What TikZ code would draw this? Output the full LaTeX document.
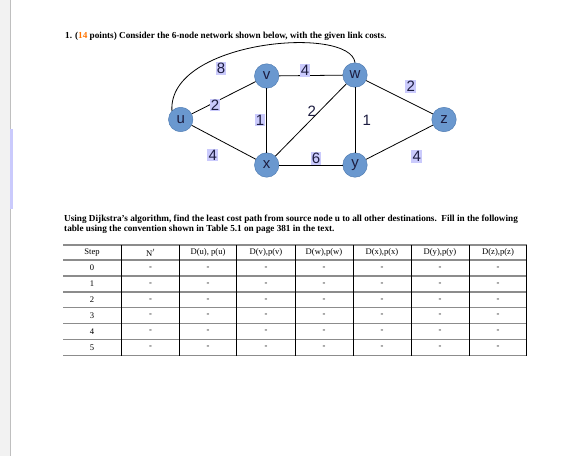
\documentclass[tikz,border=0pt]{standalone}
\usepackage{fontspec}
\setmainfont{Liberation Serif}
\newfontfamily\labelfont{Liberation Sans}
\usetikzlibrary{positioning}

\definecolor{nodeblue}{HTML}{6A98CF}
\definecolor{nodeedge}{HTML}{4A77AE}
\definecolor{costbg}{HTML}{CACAFC}
\definecolor{inkblue}{HTML}{1C1C40}
\definecolor{rulegray}{HTML}{8C8C8C}

\begin{document}
\begin{tikzpicture}[
		x=1pt, y=-1pt,
		router/.style={circle, draw=nodeedge, fill=nodeblue, minimum size=24.5pt, inner sep=0pt, font=\labelfont\fontsize{15}{15}\selectfont, text=inkblue},
		cost/.style={fill=costbg, inner sep=1.2pt, font=\labelfont\fontsize{15}{15}\selectfont, text=inkblue},
		plaincost/.style={inner sep=1.2pt, font=\labelfont\fontsize{15}{15}\selectfont, text=inkblue},
		link/.style={draw=black, line width=0.8pt},
		body/.style={anchor=base west, inner sep=0pt, font=\bfseries\fontsize{9.2}{10}\selectfont},
		cell/.style={inner sep=0pt, font=\fontsize{8.6}{9}\selectfont}
		]
		\useasboundingbox (0,0) rectangle (574,456);
		
		% 0. Page margin strip
		\fill[black!5] (0,0) rectangle (10,456);
		\draw[black!25, line width=0.8pt] (10.5,0) -- (10.5,456);
		\fill[costbg] (10,129) rectangle (13,209);
		
		% 1. Question text
		\node[body] (title) at (65,38.3) {1. ({\color{orange!90!red}14} points) Consider the 6-node network shown below, with the given link costs.};
		
		% 2. Routers
		\node[router] (u) at (180.7,119.5) {u};
		\node[router] (v) at (266.7,76) {v};
		\node[router] (w) at (355,75) {w};
		\node[router] (z) at (444,119.5) {z};
		\node[router] (x) at (266.7,165) {x};
		\node[router] (y) at (355,165) {y};
		
		% 3. Links
		\draw[link] (u.north west) .. controls (168,40) and (350,25) .. (w.north);
		\draw[link] (u) -- (v);
		\draw[link] (u) -- (x);
		\draw[link] (v) -- (w);
		\draw[link] (v) -- (x);
		\draw[link] (x) -- (w);
		\draw[link] (w) -- (y);
		\draw[link] (w) -- (z);
		\draw[link] (x) -- (y);
		\draw[link] (y) -- (z);
		
		% 4. Link costs
		\node[cost] (cuw) at (221,68.3) {8};
		\node[cost] (cuv) at (215,105) {2};
		\node[cost] (cvw) at (305,70.7) {4};
		\node[cost] (cwz) at (410.7,86.7) {2};
		\node[cost] (cvx) at (260,120) {1};
		\node[plaincost] (cxw) at (311.7,111.7) {2};
		\node[plaincost] (cwy) at (366.7,120) {1};
		\node[cost] (cux) at (212.7,155) {4};
		\node[cost] (cxy) at (316,158.3) {6};
		\node[cost] (cyz) at (416.7,156.7) {4};
		
		% 5. Instructions
		\node[body] (task1) at (64,221.7) {Using Dijkstra's algorithm, find the least cost path from source node u to all other destinations.\ \ Fill in the following};
		\node[body] (task2) at (64,231.7) {table using the convention shown in Table 5.1 on page 381 in the text.};
		
		% 6. Table rules
		\foreach \ry in {245,260,276,292,307.5,323.5,339.5,355.5}
			\draw[rulegray, line width=1.2pt] (63,\ry) -- (527,\ry);
		\foreach \cx in {121.7,179.3,236.7,295,353.3,411,469.3,526.7}
			\draw[black, line width=0.7pt] (\cx,245) -- (\cx,355.5);
		
		% 7. Table header
		\foreach \cx/\head [count=\i] in {92/Step, 150.5/N$'$, 208/{D(u), p(u)}, 266/{D(v),p(v)}, 324/{D(w),p(w)}, 382/{D(x),p(x)}, 440/{D(y),p(y)}, 498/{D(z),p(z)}}
			\node[cell] (head\i) at (\cx,252.5) {\head};
		
		% 8. Table rows
		\foreach \step/\ry in {0/268, 1/284, 2/300, 3/315.5, 4/331.5, 5/347.5} {
			\node[cell] (step\step) at (92,\ry) {\step};
			\foreach \cx [count=\j] in {150.5,208,266,324,382,440,498}
				\node[cell] (dash\step\j) at (\cx,\ry) {-};
		}
	\end{tikzpicture}
\end{document}
